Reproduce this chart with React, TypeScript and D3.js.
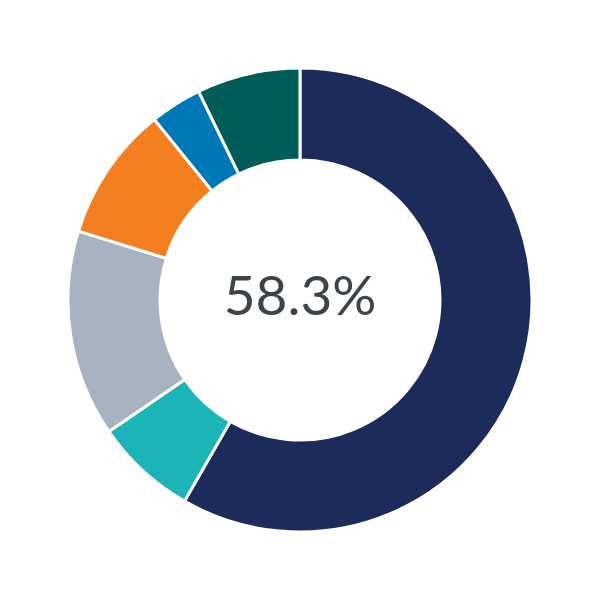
import React from "react";
import * as d3 from "d3";

const categories = ["A", "B", "C", "D", "E", "F"];
const values = [58.3, 7.1, 14.4, 9.4, 3.6, 7.2];
const colors = ["#1c2b5a", "#1bb5b8", "#a8b2c1", "#f47f20", "#0077b6", "#005c56"];
const centerLabel = "58.3%";

export default function App() {
  const width = 600;
  const height = 600;
  const cx = 300;
  const cy = 300;
  const outer = 232;
  const inner = 140;
  const pie = d3
    .pie<number>()
    .sort(null)
    .value((d) => d);
  const arcs = pie(values);
  const arc = d3.arc<d3.PieArcDatum<number>>().innerRadius(inner).outerRadius(outer);
  return (
    <svg
      width={width}
      height={height}
      style={{ position: "absolute", left: 0, top: 0, background: "#fff" }}
    >
      <g transform={`translate(${cx},${cy})`}>
        {arcs.map((a, i) => (
          <path
            key={categories[i]}
            d={arc(a) || ""}
            fill={colors[i]}
            stroke="#fff"
            strokeWidth={3}
            strokeLinejoin="round"
          />
        ))}
        <text
          x={0}
          y={15}
          textAnchor="middle"
          fontFamily="Lato, sans-serif"
          fontSize={55}
          fill="#3d434b"
        >
          {centerLabel}
        </text>
      </g>
    </svg>
  );
}
